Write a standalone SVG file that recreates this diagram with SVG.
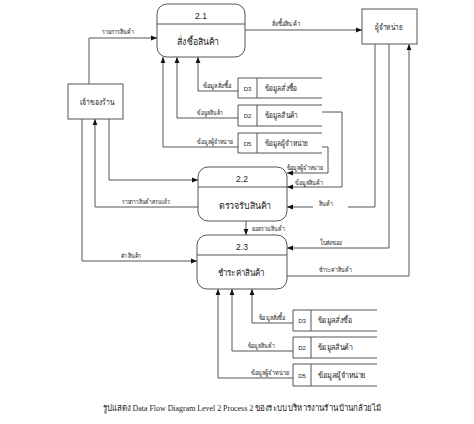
<svg xmlns="http://www.w3.org/2000/svg" width="474" height="424" viewBox="0 0 474 424">
<defs>
<marker id="ah" viewBox="0 0 10 10" refX="10" refY="5" markerWidth="6" markerHeight="6" orient="auto" markerUnits="userSpaceOnUse">
<path d="M0,1 L10,5 L0,9 z" fill="#111"/>
</marker>
<style>
.box{fill:#fff;stroke:#555;stroke-width:1}
.ln{fill:none;stroke:#555;stroke-width:1}
.c{stroke:#555;stroke-width:1;fill:none}
.a{marker-end:url(#ah)}
text{font-family:"Liberation Sans","DejaVu Sans",sans-serif;fill:#222}
.t{font-size:9.5px;text-anchor:middle}
.n{font-size:8.5px;text-anchor:middle}
.l{font-size:7px;text-anchor:middle}
.s{font-size:8px}
.id{font-size:6px;text-anchor:middle}
.cap{font-family:"Liberation Serif",serif;font-size:9px;text-anchor:middle}
</style>
</defs>
<rect width="474" height="424" fill="#fff"/>
<g id="connectors">
<path class="c a" d="M89,84 V38 H157"/>
<text class="l" x="118" y="34" textLength="32" lengthAdjust="spacingAndGlyphs">รายการสินค้า</text>
<path class="c a" d="M245,30 H362"/>
<text class="l" x="286" y="26" textLength="28" lengthAdjust="spacingAndGlyphs">สั่งซื้อสินค้า</text>
<path class="c a" d="M238,91 H198 V57"/>
<text class="l" x="217" y="88" textLength="29" lengthAdjust="spacingAndGlyphs">ข้อมูลสั่งซื้อ</text>
<path class="c a" d="M238,118 H177 V57"/>
<text class="l" x="210" y="115" textLength="26" lengthAdjust="spacingAndGlyphs">ข้อมูลสินค้า</text>
<path class="c a" d="M238,147 H163 V57"/>
<text class="l" x="215" y="144" textLength="36" lengthAdjust="spacingAndGlyphs">ข้อมูลผู้จำหน่าย</text>
<path class="c a" d="M322,112 H342 V187 H287"/>
<text class="l" x="309" y="185" textLength="28" lengthAdjust="spacingAndGlyphs">ข้อมูลสินค้า</text>
<path class="c a" d="M322,147 H328 V173 H287"/>
<text class="l" x="305" y="170" textLength="37" lengthAdjust="spacingAndGlyphs">ข้อมูลผู้จำหน่าย</text>
<path class="c" d="M375,44 V207 H348"/>
<path class="c a" d="M313,207 H287"/>
<text class="l" x="326" y="206" textLength="14" lengthAdjust="spacingAndGlyphs">สินค้า</text>
<path class="c a" d="M389,44 V248 H287"/>
<text class="l" x="331" y="245" textLength="22" lengthAdjust="spacingAndGlyphs">ใบส่งของ</text>
<path class="c a" d="M287,276 H409 V44"/>
<text class="l" x="335" y="272" textLength="33" lengthAdjust="spacingAndGlyphs">ชำระค่าสินค้า</text>
<path class="c a" d="M246,221 V235"/>
<text class="l" x="268" y="231" textLength="33" lengthAdjust="spacingAndGlyphs">ยอดรวมสินค้า</text>
<path class="c a" d="M198,207 H95 V119"/>
<text class="l" x="146" y="204" textLength="48" lengthAdjust="spacingAndGlyphs">รายการสินค้าครบแล้ว</text>
<path class="c a" d="M109,119 V180 H198"/>
<path class="c a" d="M82,119 V261 H197"/>
<text class="l" x="131" y="258" textLength="21" lengthAdjust="spacingAndGlyphs">ค่าสินค้า</text>
<path class="c a" d="M293,323 H252 V289"/>
<text class="l" x="272" y="320" textLength="27" lengthAdjust="spacingAndGlyphs">ข้อมูลสั่งซื้อ</text>
<path class="c a" d="M293,351 H232 V289"/>
<text class="l" x="261" y="348" textLength="27" lengthAdjust="spacingAndGlyphs">ข้อมูลสินค้า</text>
<path class="c a" d="M293,378 H218 V289"/>
<text class="l" x="270" y="375" textLength="38" lengthAdjust="spacingAndGlyphs">ข้อมูลผู้จำหน่าย</text>
</g>
<g id="p21">
<rect class="box" x="157" y="4" width="88" height="53" rx="10"/>
<line class="ln" x1="157" y1="24" x2="245" y2="24"/>
<text class="n" x="201" y="19">2.1</text>
<text class="t" x="198" y="45" textLength="42" lengthAdjust="spacingAndGlyphs">สั่งซื้อสินค้า</text>
</g>
<g id="p22">
<rect class="box" x="198" y="167" width="89" height="54" rx="10"/>
<line class="ln" x1="198" y1="187" x2="287" y2="187"/>
<text class="n" x="242" y="182">2.2</text>
<text class="t" x="245" y="209" textLength="52" lengthAdjust="spacingAndGlyphs">ตรวจรับสินค้า</text>
</g>
<g id="p23">
<rect class="box" x="197" y="235" width="90" height="54" rx="10"/>
<line class="ln" x1="197" y1="255" x2="287" y2="255"/>
<text class="n" x="242" y="250">2.3</text>
<text class="t" x="241" y="276" textLength="46" lengthAdjust="spacingAndGlyphs">ชำระค่าสินค้า</text>
</g>
<g id="owner">
<rect class="box" x="68" y="84" width="55" height="35"/>
<text class="n" x="97" y="105" textLength="35" lengthAdjust="spacingAndGlyphs">เจ้าของร้าน</text>
</g>
<g id="supplier">
<rect class="box" x="362" y="9" width="55" height="35"/>
<text class="n" x="389" y="30" textLength="28" lengthAdjust="spacingAndGlyphs">ผู้จำหน่าย</text>
</g>
<g id="ds-a-d3">
<path class="ln" d="M322,78 H238 V98 H322 M257,78 V98"/>
<text class="id" x="247.5" y="91">D3</text>
<text class="s" x="265" y="91" textLength="32" lengthAdjust="spacingAndGlyphs">ข้อมูลสั่งซื้อ</text>
</g>
<g id="ds-a-d2">
<path class="ln" d="M322,105 H238 V126 H322 M257,105 V126"/>
<text class="id" x="247.5" y="118">D2</text>
<text class="s" x="265" y="118" textLength="32" lengthAdjust="spacingAndGlyphs">ข้อมูลสินค้า</text>
</g>
<g id="ds-a-d5">
<path class="ln" d="M322,133 H238 V153 H322 M257,133 V153"/>
<text class="id" x="247.5" y="146">D5</text>
<text class="s" x="265" y="146" textLength="43" lengthAdjust="spacingAndGlyphs">ข้อมูลผู้จำหน่าย</text>
</g>
<g id="ds-b-d3">
<path class="ln" d="M377,310 H293 V331 H377 M311,310 V331"/>
<text class="id" x="302" y="323">D3</text>
<text class="s" x="318" y="323" textLength="34" lengthAdjust="spacingAndGlyphs">ข้อมูลสั่งซื้อ</text>
</g>
<g id="ds-b-d2">
<path class="ln" d="M377,337 H293 V358 H377 M311,337 V358"/>
<text class="id" x="302" y="350">D2</text>
<text class="s" x="318" y="350" textLength="34" lengthAdjust="spacingAndGlyphs">ข้อมูลสินค้า</text>
</g>
<g id="ds-b-d5">
<path class="ln" d="M377,364 H293 V386 H377 M311,364 V386"/>
<text class="id" x="302" y="378">D5</text>
<text class="s" x="318" y="378" textLength="48" lengthAdjust="spacingAndGlyphs">ข้อมูลผู้จำหน่าย</text>
</g>
<text class="cap" x="242" y="411" textLength="279" lengthAdjust="spacingAndGlyphs">รูปแสดง Data Flow Diagram  Level 2 Process 2 ของระบบบริหารงานร้านบ้านกล้วยไม้</text>
</svg>
